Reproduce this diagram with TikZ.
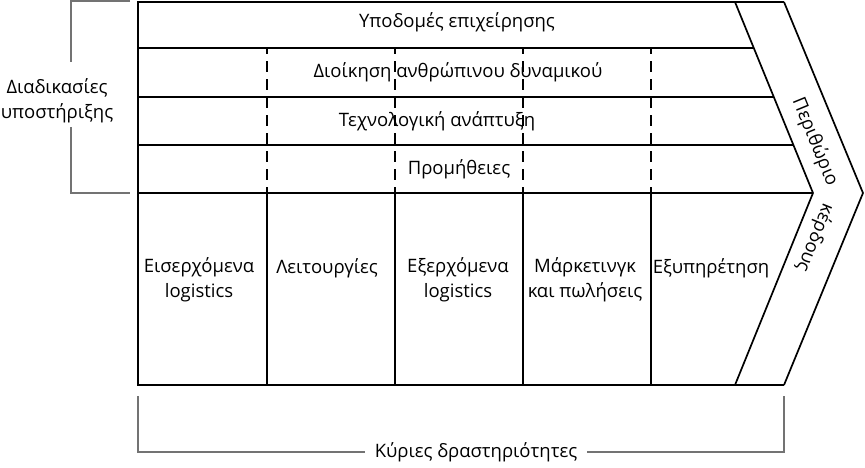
\documentclass[tikz,border=0pt]{standalone}
\usepackage{fontspec}
\setmainfont{Open Sans}
\begin{document}
\begin{tikzpicture}[x=1pt,y=-1pt,
  lbl/.style={font=\fontsize{18.5}{25}\selectfont, inner sep=0pt, align=center},
  frame/.style={line width=2.8pt},
  rule/.style={line width=1.7pt},
  dashrule/.style={line width=1.7pt, dash pattern=on 11pt off 7pt, dash phase=5pt},
  brace/.style={line width=1.8pt, draw=black!55}]
  \useasboundingbox (0,0) rectangle (865,467);

  % support activities
  \draw[rule] (138,48) -- (753.8,48);
  \draw[rule] (138,97) -- (773.8,97);
  \draw[rule] (138,145) -- (793.4,145);
  \draw[rule] (138,193) -- (813,193);
  \draw[dashrule] (267,48) -- (267,193);
  \draw[dashrule] (395,48) -- (395,193);
  \draw[dashrule] (523,48) -- (523,193);
  \draw[dashrule] (651,48) -- (651,193);

  % primary activities
  \draw[rule] (267,193) -- (267,385);
  \draw[rule] (395,193) -- (395,385);
  \draw[rule] (523,193) -- (523,385);
  \draw[rule] (651,193) -- (651,385);

  % margin
  \draw[rule] (735,2) -- (813,193) -- (735,385);
  \draw[rule] (784,2) -- (863,193) -- (784,385);
  \draw[frame] (784,2) -- (138,2) -- (138,385) -- (784,385);

  \node[lbl] (infra) at (457,22) {Υποδομές επιχείρησης};
  \node[lbl] (hrm) at (458,72) {Διοίκηση ανθρώπινου δυναμικού};
  \node[lbl] (tech) at (437,121) {Τεχνολογική ανάπτυξη};
  \node[lbl] (proc) at (459,169) {Προμήθειες};

  \node[lbl] (inlog) at (199,280) {Εισερχόμενα\\logistics};
  \node[lbl] (ops) at (327,268) {Λειτουργίες};
  \node[lbl] (outlog) at (458,280) {Εξερχόμενα\\logistics};
  \node[lbl] (mark) at (585,280) {Μάρκετινγκ\\και πωλήσεις};
  \node[lbl] (serv) at (711,268) {Εξυπηρέτηση};

  \node[lbl, rotate=-67.8] (marg1) at (815,142) {Περιθώριο};
  \node[lbl, rotate=-112.2] (marg2) at (815,238) {κέρδους};

  % brackets
  \node[lbl] (support) at (57,101) {Διαδικασίες\\υποστήριξης};
  \draw[brace] (130,1) -- (71,1) -- (71,62);
  \draw[brace] (71,127) -- (71,193) -- (130,193);

  \node[lbl, inner xsep=10pt] (primary) at (476,452) {Κύριες δραστηριότητες};
  \draw[brace] (138,396) |- (primary.west);
  \draw[brace] (784,396) |- (primary.east);
\end{tikzpicture}
\end{document}
